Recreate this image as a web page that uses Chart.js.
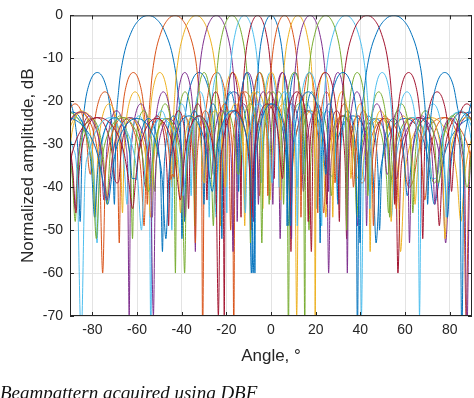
<!DOCTYPE html>
<html>
<head>
<meta charset="utf-8">
<script src="https://cdn.jsdelivr.net/npm/chart.js@4.4.1/dist/chart.umd.min.js"></script>
<style>
    html, body { margin: 0; padding: 0; background: #fff; overflow: hidden; }
    #wrap { position: relative; width: 474px; height: 398px; }
    #caption {
        position: absolute; left: 0; top: 381px;
        font: italic 19px/24px "Liberation Serif", "DejaVu Serif", serif;
        color: #111; white-space: nowrap;
    }
</style>
</head>
<body>
<div id="wrap">
    <canvas id="beamChart" width="474" height="398"></canvas>
    <div id="caption">Beampattern acquired using DBF</div>
</div>
<script>
// Beam steering angles (deg) read from the main-lobe peaks, left to right
const beamCenters = [-55, -43, -33.5, -24.5, -17.5, -12, -6, 0, 6, 12, 17.5, 24.5, 33.5, 43, 55];
// How much wider each beam looks than the broadside one
const beamSpread = [2.1, 1.72, 1.5, 1.3, 1.15, 1.08, 1.03, 1, 1.03, 1.08, 1.15, 1.3, 1.5, 1.72, 2.1];

// One side of the broadside beam: offset from the peak (deg) and level (dB)
// null = a pattern null, its depth is taken from nullDepths
const lobeOffsets = [
    0, 1.8, 3.6, 5.4, 6.3, 6.9, 7.2,
    7.66, 8.11, 9.03, 10.85, 12.67, 13.59, 14.04, 14.5,
    14.97, 15.44, 16.38, 18.25, 20.12, 21.06, 21.53, 22.0,
    22.5, 23.0, 24.0, 26.0, 28.0, 29.0, 29.5, 30.0,
    30.54, 31.09, 32.18, 34.35, 36.52, 37.61, 38.16, 38.7,
    39.32, 39.94, 41.18, 43.65, 46.12, 47.36, 47.98, 48.6,
    49.38, 50.15, 51.7, 54.8, 57.9, 59.45, 60.22, 61.0,
    62.13, 63.25, 65.5, 70.0, 74.5, 76.75, 77.87, 79.0,
    80.25, 81.5, 84.0, 89.0, 94.0, 96.5, 97.75, 99.0,
    100.25, 101.5, 104.0, 109.0, 114.0, 116.5, 117.75, 119.0
];
const lobeLevels = [
    0, -0.9, -3.9, -10.4, -17.5, -27.6, null,
    -27.5, -21.6, -16.3, -13.3, -16.3, -21.6, -27.5, null,
    -32, -26.1, -20.8, -17.8, -20.8, -26.1, -32, null,
    -34.8, -28.9, -23.6, -20.6, -23.6, -28.9, -34.8, null,
    -36.4, -30.5, -25.2, -22.2, -25.2, -30.5, -36.4, null,
    -37.6, -31.7, -26.4, -23.4, -26.4, -31.7, -37.6, null,
    -38.2, -32.3, -27, -24, -27, -32.3, -38.2, null,
    -38, -32.1, -26.8, -23.8, -26.8, -32.1, -38, null,
    -36.7, -30.8, -25.5, -22.5, -25.5, -30.8, -36.7, null,
    -36.2, -30.3, -25, -22, -25, -30.3, -36.2, null
];
// Depths of the nulls (dB), as seen on the spikes
const nullDepths = [-40, -49, -45, -43, -70, -47, -38, -55, -48, -44, -52, -41, -60, -49, -37, -53,
    -44, -75, -50, -42, -47, -46, -39];

const xTicks = [-80, -60, -40, -20, 0, 20, 40, 60, 80];
const yTicks = [-70, -60, -50, -40, -30, -20, -10, 0];

// MATLAB default line colours
const lineColors = ['#0072BD', '#D95319', '#EDB120', '#7E2F8E', '#77AC30', '#4DBEEE', '#A2142F'];

const axisColor = '#262626';
const tickFont = { family: "'Liberation Sans', Arial, sans-serif", size: 14 };
const titleFont = { family: "'Liberation Sans', Arial, sans-serif", size: 17 };

// Build one beam from the lobe table, shifted to its own centre
function beamPoints(b) {
    const c = beamCenters[b];
    const s = beamSpread[b];
    const pts = [];
    let k = 0;
    const level = (i) => lobeLevels[i] === null ? nullDepths[(k++ + 7 * b) % nullDepths.length] : lobeLevels[i];
    for (let i = lobeOffsets.length - 1; i > 0; i--) {
        pts.push({ x: c - lobeOffsets[i] * s, y: level(i) });
    }
    for (let i = 0; i < lobeOffsets.length; i++) {
        pts.push({ x: c + lobeOffsets[i] * s, y: level(i) });
    }
    return pts;
}

const datasets = beamCenters.map((c, b) => ({
    label: 'Beam ' + (b + 1),
    data: beamPoints(b),
    borderColor: lineColors[b % lineColors.length],
    borderWidth: 1,
    pointRadius: 0,
    fill: false,
    cubicInterpolationMode: 'monotone',
    order: -b
}));

// Box round the plot and inward tick marks, like MATLAB axes
const axesBox = {
    id: 'axesBox',
    afterDatasetsDraw(chart) {
        const { ctx, chartArea: a, scales: { x, y } } = chart;
        ctx.save();
        ctx.strokeStyle = axisColor;
        ctx.lineWidth = 1;
        ctx.strokeRect(a.left + 0.5, a.top + 0.5, a.right - a.left - 1, a.bottom - a.top - 1);
        ctx.beginPath();
        xTicks.forEach(v => {
            const px = Math.round(x.getPixelForValue(v)) + 0.5;
            ctx.moveTo(px, a.bottom); ctx.lineTo(px, a.bottom - 4);
            ctx.moveTo(px, a.top); ctx.lineTo(px, a.top + 4);
        });
        yTicks.forEach(v => {
            const py = Math.round(y.getPixelForValue(v)) + 0.5;
            ctx.moveTo(a.left, py); ctx.lineTo(a.left + 4, py);
            ctx.moveTo(a.right, py); ctx.lineTo(a.right - 4, py);
        });
        ctx.stroke();
        ctx.restore();
    }
};

new Chart(document.getElementById('beamChart'), {
    type: 'line',
    data: { datasets },
    options: {
        responsive: false,
        animation: false,
        events: [],
        layout: { padding: { top: 8, right: 2, bottom: 30, left: 0 } },
        plugins: { legend: { display: false }, tooltip: { enabled: false } },
        scales: {
            x: {
                type: 'linear',
                min: -90,
                max: 90,
                afterBuildTicks: (s) => { s.ticks = xTicks.map(v => ({ value: v })); },
                afterFit: (s) => { s.height = 52; },
                grid: { color: '#e3e3e3', drawTicks: false },
                border: { display: false },
                ticks: { color: axisColor, font: tickFont, padding: 6, maxRotation: 0 },
                title: { display: true, text: 'Angle, °', color: axisColor, font: titleFont, padding: { top: 0, bottom: 1 } }
            },
            y: {
                type: 'linear',
                min: -70,
                max: 0,
                afterBuildTicks: (s) => { s.ticks = yTicks.map(v => ({ value: v })); },
                afterFit: (s) => { s.width = 70; },
                grid: { color: '#e3e3e3', drawTicks: false },
                border: { display: false },
                ticks: { color: axisColor, font: tickFont, padding: 7 },
                title: { display: true, text: 'Normalized amplitude, dB', color: axisColor, font: titleFont, padding: { top: 18, bottom: 0 } }
            }
        }
    },
    plugins: [axesBox]
});
</script>
</body>
</html>
